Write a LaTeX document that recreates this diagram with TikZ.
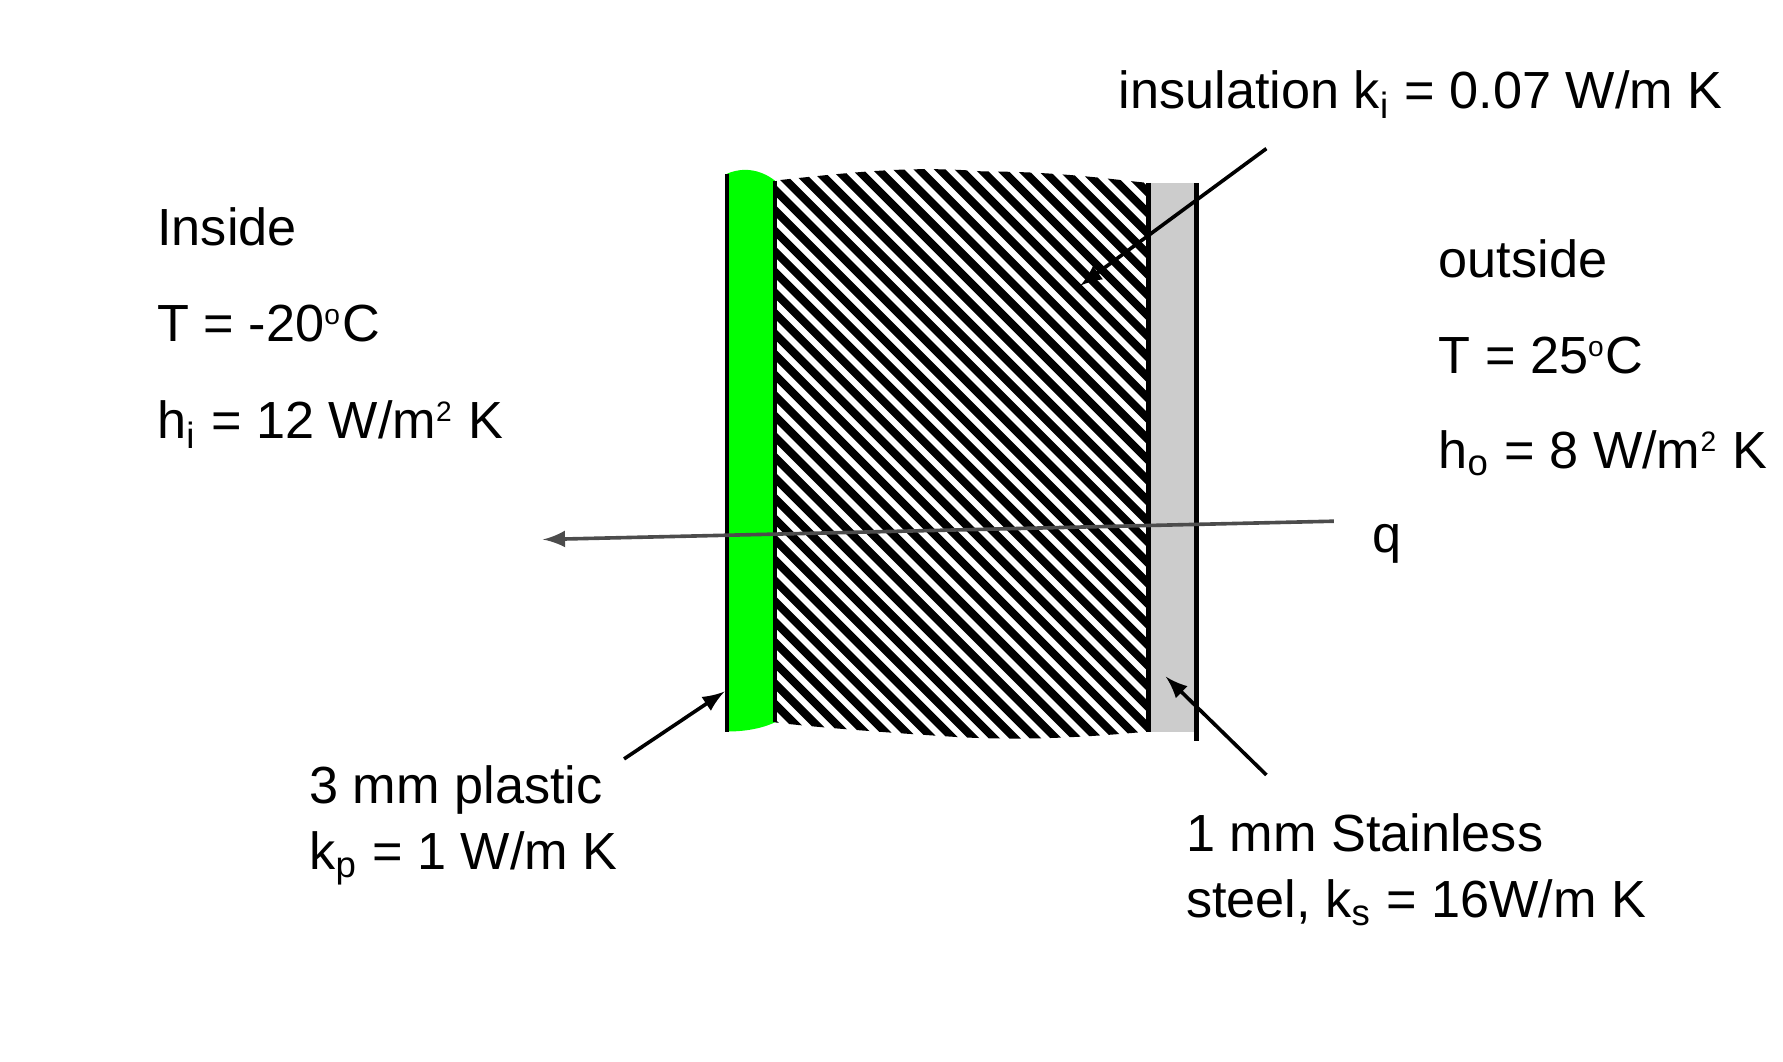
\documentclass[tikz,border=0pt]{standalone}
\usepackage{fontspec}
\setmainfont{Liberation Sans}
\begin{document}
\begin{tikzpicture}[x=0.01cm,y=-0.01cm,
  lbl/.style={anchor=base west,inner sep=0pt,font=\fontsize{13}{15}\selectfont},
  ptr/.style={-latex,line width=0.9pt}]
\useasboundingbox (0,0) rectangle (1560,929);
% insulation hatch
\begin{scope}
\clip (678,158) .. controls (750,150) and (800,145) .. (860,150) .. controls (930,150) and (980,158) .. (1005,160) -- (1005,640) .. controls (950,645) and (900,648) .. (840,645) .. controls (760,640) and (700,635) .. (678,632) -- cycle;
\foreach \a in {-500,-482,...,1010} \draw[line width=2pt] (\a,140) -- (\a+520,660);
\end{scope}
\fill[green] (636,152) .. controls (650,146) and (665,148) .. (678,158) -- (678,632) .. controls (665,638) and (650,640) .. (636,640) -- cycle;
\draw[line width=1pt] (678,158) -- (678,632);
\draw[line width=1.2pt] (636,152) -- (636,640);
\fill[gray!40] (1005,160) rectangle (1047,640);
\draw[line width=1.2pt] (1005,160) -- (1005,640);
\draw[line width=1.2pt] (1047,160) -- (1047,648);
% arrows
\coordinate (qs) at (1167,456); \coordinate (qe) at (475,472);
\draw[ptr,black!70] (qs) -- (qe);
\node[lbl] (q) at (1200,483) {q};
\node[lbl] (ins) at (978,95) {insulation k\textsubscript{i} = 0.07 W/m K};
\coordinate (insA) at (1108,130); \coordinate (insB) at (945,250);
\draw[ptr] (insA) -- (insB);
\node[lbl] (in1) at (137,215) {Inside};
\node[lbl] (in2) at (137,299) {T = -20\textsuperscript{\scriptsize o}C};
\node[lbl] (in3) at (137,384) {h\textsubscript{i} = 12 W/m\textsuperscript{\scriptsize 2} K};
\node[lbl] (o1) at (1258,243) {outside};
\node[lbl] (o2) at (1258,327) {T = 25\textsuperscript{\scriptsize o}C};
\node[lbl] (o3) at (1258,410) {h\textsubscript{o} = 8 W/m\textsuperscript{\scriptsize 2} K};
\node[lbl] (p1) at (270,703) {3 mm plastic};
\node[lbl] (p2) at (270,761) {k\textsubscript{p} = 1 W/m K};
\coordinate (pA) at (546,664); \coordinate (pB) at (634,605);
\draw[ptr] (pA) -- (pB);
\node[lbl] (s1) at (1037,745) {1 mm Stainless};
\node[lbl] (s2) at (1037,803) {steel, k\textsubscript{s} = 16W/m K};
\coordinate (sA) at (1108,678); \coordinate (sB) at (1020,592);
\draw[ptr] (sA) -- (sB);
\end{tikzpicture}
\end{document}
